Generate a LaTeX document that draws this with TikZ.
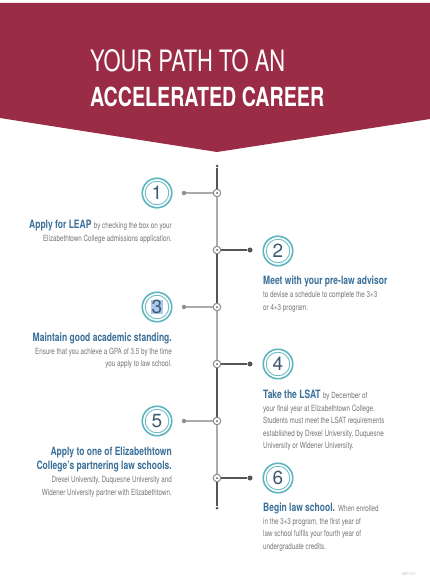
\documentclass[tikz,border=0pt]{standalone}
\usepackage{fontspec}
\usepackage{graphicx}
\setmainfont{TeX Gyre Heros}
\newfontfamily\condfont[FakeStretch=0.74]{TeX Gyre Heros}
\newfontfamily\digitfont{TeX Gyre Heros}
\definecolor{maroon}{HTML}{9A2C45}
\definecolor{tealc}{HTML}{5DB5BF}
\definecolor{headblue}{HTML}{3A7099}
\definecolor{bodygray}{HTML}{77767A}
\definecolor{digitc}{HTML}{3D5A73}
\definecolor{linedark}{HTML}{555555}
\definecolor{linelight}{HTML}{ABABAB}
\definecolor{jgray}{HTML}{8A8A8A}
\definecolor{dotlight}{HTML}{8F8F8F}
\definecolor{hl}{HTML}{A8C8EC}
\definecolor{footgray}{HTML}{B5B5B5}
\newcommand\hdtxt{\condfont\bfseries\fontsize{11.5}{13}\selectfont\color{headblue}}
\newcommand\bdtxt{\condfont\mdseries\fontsize{8.5}{10}\selectfont\color{bodygray}}
\begin{document}
\begin{tikzpicture}[x=1pt,y=-1pt,
  vdark/.style={draw=linedark, line width=1.4pt},
  vlight/.style={draw=linelight, line width=1.4pt},
  lconn/.style={draw=linelight, line width=1.2pt},
  rconn/.style={draw=linedark, line width=1.2pt},
  junction/.style={circle, draw=jgray, line width=1pt, fill=white, minimum size=7.5pt, inner sep=0pt,
    path picture={\fill[linedark] (path picture bounding box.center) circle (1pt);}},
  ldot/.style={circle, fill=dotlight, minimum size=4.5pt, inner sep=0pt},
  rdot/.style={circle, fill=linedark, minimum size=5pt, inner sep=0pt},
  enddot/.style={circle, fill=linedark, minimum size=3pt, inner sep=0pt},
  numc/.style={circle, draw=tealc, line width=1.6pt, fill=white, minimum size=29.5pt, inner sep=0pt,
    font=\digitfont\fontsize{19}{19}\selectfont, text=digitc,
    path picture={\draw[tealc, line width=0.8pt] (path picture bounding box.center) circle (11.8pt);}},
  ltext/.style={anchor=base east, inner sep=0pt},
  rtext/.style={anchor=base west, inner sep=0pt}]
\useasboundingbox (0,0) rectangle (430,578);
\fill[white] (0,0) rectangle (430,578);
% banner
\fill[maroon] (0,3) -- (430,3) -- (430,119) -- (217,152) -- (0,118) -- cycle;
\node[anchor=west, inner sep=0pt, text=white] (ttl1) at (90,60.5)
  {\resizebox{195pt}{22pt}{YOUR PATH TO AN}};
\node[anchor=west, inner sep=0pt, text=white] (ttl2) at (90,96.5)
  {\resizebox{234pt}{19.5pt}{\bfseries ACCELERATED CAREER}};
% timeline
\node[enddot] (top) at (217,166) {};
\node[enddot] (bot) at (217,508) {};
\node[junction] (j1) at (217,193) {};
\node[junction] (j2) at (217,250) {};
\node[junction] (j3) at (217,307) {};
\node[junction] (j4) at (217,364) {};
\node[junction] (j5) at (217,421) {};
\node[junction] (j6) at (217,478) {};
\draw[vdark] (top) -- (j1);
\draw[vlight] (j1) -- (j2);
\draw[vdark] (j2) -- (j3);
\draw[vlight] (j3) -- (j4);
\draw[vdark] (j4) -- (j5);
\draw[vlight] (j5) -- (j6);
\draw[vdark] (j6) -- (bot);
% dots
\node[ldot] (d1) at (184,193) {};
\node[rdot] (d2) at (250,250) {};
\node[ldot] (d3) at (184,307) {};
\node[rdot] (d4) at (250,364) {};
\node[ldot] (d5) at (184,421) {};
\node[rdot] (d6) at (250,478) {};
\draw[lconn] (d1) -- (j1);
\draw[rconn] (j2) -- (d2);
\draw[lconn] (d3) -- (j3);
\draw[rconn] (j4) -- (d4);
\draw[lconn] (d5) -- (j5);
\draw[rconn] (j6) -- (d6);
% number circles
\node[numc] (c1) at (157,193) {1};
\node[numc] (c2) at (278,251) {2};
\node[numc] (c3) at (157,307) {{\setlength\fboxsep{0.5pt}\colorbox{hl}{3}}};
\node[numc] (c4) at (278,364) {4};
\node[numc] (c5) at (157,421) {5};
\node[numc] (c6) at (278,478) {6};
% block 1
\node[ltext] (t1a) at (172,228) {\hdtxt Apply for LEAP \bdtxt by checking the box on your};
\node[ltext] (t1b) at (172,241) {\bdtxt Elizabethtown College admissions application.};
% block 2
\node[rtext] (t2a) at (263,284.5) {\hdtxt Meet with your pre-law advisor};
\node[rtext] (t2b) at (263,297) {\bdtxt to devise a schedule to complete the 3+3};
\node[rtext] (t2c) at (263,310) {\bdtxt or 4+3 program.};
% block 3
\node[ltext] (t3a) at (172,341.5) {\hdtxt Maintain good academic standing.};
\node[ltext] (t3b) at (172,354) {\bdtxt Ensure that you achieve a GPA of 3.5 by the time};
\node[ltext] (t3c) at (172,366.5) {\bdtxt you apply to law school.};
% block 4
\node[rtext] (t4a) at (263,398.5) {\hdtxt Take the LSAT \bdtxt by December of};
\node[rtext] (t4b) at (263,411) {\bdtxt your final year at Elizabethtown College.};
\node[rtext] (t4c) at (263,423.5) {\bdtxt Students must meet the LSAT requirements};
\node[rtext] (t4d) at (263,436) {\bdtxt established by Drexel University, Duquesne};
\node[rtext] (t4e) at (263,448.5) {\bdtxt University or Widener University.};
% block 5
\node[ltext] (t5a) at (172,455) {\hdtxt Apply to one of Elizabethtown};
\node[ltext] (t5b) at (172,469.5) {\hdtxt College’s partnering law schools.};
\node[ltext] (t5c) at (172,482.5) {\bdtxt Drexel University, Duquesne University and};
\node[ltext] (t5d) at (172,495) {\bdtxt Widener University partner with Elizabethtown.};
% block 6
\node[rtext] (t6a) at (263,511) {\hdtxt Begin law school. \bdtxt When enrolled};
\node[rtext] (t6b) at (263,524) {\bdtxt in the 3+3 program, the first year of};
\node[rtext] (t6c) at (263,536.5) {\bdtxt law school fulfils your fourth year of};
\node[rtext] (t6d) at (263,549) {\bdtxt undergraduate credits.};
% footer code
\node[anchor=base east, inner sep=0pt, font=\condfont\fontsize{4}{4}\selectfont, text=footgray] (code) at (416,575) {1657-1217};
\end{tikzpicture}
\end{document}
